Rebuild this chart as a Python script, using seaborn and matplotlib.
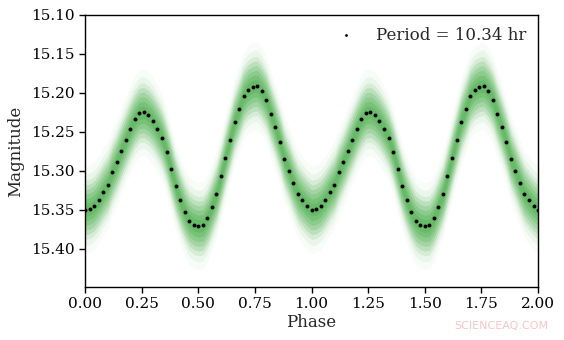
import numpy as np
import pandas as pd
import matplotlib
matplotlib.use("Agg")
import matplotlib.pyplot as plt
import seaborn as sns

# Phase-folded light curve: binned mean magnitude per 0.02 phase bin
phase_bins = [0.00, 0.02, 0.04, 0.06, 0.08, 0.10, 0.12, 0.14, 0.16, 0.18,
              0.20, 0.22, 0.24, 0.26, 0.28, 0.30, 0.32, 0.34, 0.36, 0.38,
              0.40, 0.42, 0.44, 0.46, 0.48, 0.50, 0.52, 0.54, 0.56, 0.58,
              0.60, 0.62, 0.64, 0.66, 0.68, 0.70, 0.72, 0.74, 0.76, 0.78,
              0.80, 0.82, 0.84, 0.86, 0.88, 0.90, 0.92, 0.94, 0.96, 0.98]
binned_mag = [15.350, 15.349, 15.345, 15.337, 15.327, 15.318, 15.302, 15.289, 15.274, 15.260,
              15.246, 15.234, 15.226, 15.225, 15.229, 15.236, 15.246, 15.258, 15.276, 15.298,
              15.320, 15.338, 15.353, 15.364, 15.369, 15.371, 15.370, 15.361, 15.346, 15.330,
              15.307, 15.283, 15.260, 15.237, 15.221, 15.204, 15.196, 15.192, 15.191, 15.198,
              15.209, 15.227, 15.244, 15.263, 15.285, 15.300, 15.316, 15.330, 15.338, 15.345]

# Scatter of the individual measurements around the binned curve (mag half-widths)
scatter_halfwidths = [0.008, 0.014, 0.020, 0.026, 0.032, 0.038, 0.046, 0.056]
scatter_alphas = [0.22, 0.20, 0.19, 0.17, 0.15, 0.11, 0.06, 0.03]

period_label = "Period = 10.34 hr"
x_ticks = [0.00, 0.25, 0.50, 0.75, 1.00, 1.25, 1.50, 1.75, 2.00]
y_ticks = [15.10, 15.15, 15.20, 15.25, 15.30, 15.35, 15.40]

# Show two full cycles
phase = np.concatenate([phase_bins, np.array(phase_bins) + 1.0, [2.0]])
mag = np.concatenate([binned_mag, binned_mag, [binned_mag[0]]])
df = pd.DataFrame({"Phase": phase, "Magnitude": mag})

sns.set_theme(style="ticks")
plt.rcParams["font.family"] = ["DejaVu Serif"]
plt.rcParams["mathtext.fontset"] = "dejavuserif"

fig = plt.figure(figsize=(5.64, 3.40), dpi=100)
ax = fig.add_axes([0.1507, 0.156, 0.8033, 0.800])

green = "#2ca02c"
for hw, a in zip(scatter_halfwidths, scatter_alphas):
    ax.fill_between(df["Phase"], df["Magnitude"] - hw, df["Magnitude"] + hw,
                    color=green, alpha=a, linewidth=0)

sns.scatterplot(data=df, x="Phase", y="Magnitude", ax=ax, color="black",
                s=8, linewidth=0, label=period_label, zorder=5)

ax.set_xlim(0, 2)
ax.set_ylim(15.449, 15.10)
ax.set_xticks(x_ticks)
ax.set_xticklabels([f"{t:.2f}" for t in x_ticks])
ax.set_yticks(y_ticks)
ax.set_yticklabels([f"{t:.2f}" for t in y_ticks])
ax.tick_params(labelsize=11, length=4, width=1, colors="black")
ax.set_xlabel("Phase", fontsize=12, labelpad=2)
ax.set_ylabel("Magnitude", fontsize=12, labelpad=5)
for s in ax.spines.values():
    s.set_linewidth(1.0)
    s.set_color("black")

leg = ax.legend(loc="upper right", frameon=False, fontsize=12,
                markerscale=0.7, handletextpad=0.8, borderaxespad=0.3)

fig.text(0.973, 0.027, "SCIENCEAQ.COM", ha="right", va="bottom", fontsize=8,
         color="#f4c6c6", family=["DejaVu Sans"])

fig.savefig("out.png", dpi=100)
